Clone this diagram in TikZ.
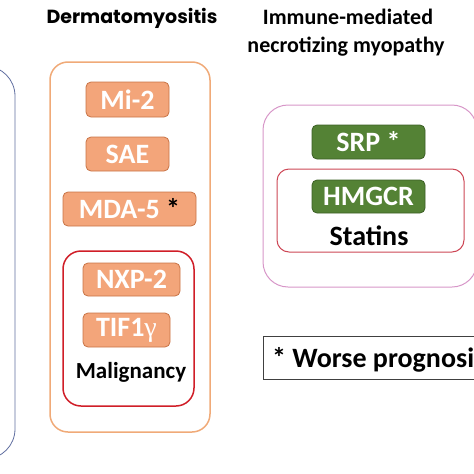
\documentclass[tikz,border=0pt]{standalone}
\usepackage{fontspec}
\setmainfont{Carlito}
\newfontfamily\titlefont{Poppins}
\newfontfamily\greekfont{Liberation Serif}
\definecolor{bluel}{RGB}{96,110,160}
\definecolor{orangel}{RGB}{240,170,120}
\definecolor{orfill}{RGB}{243,165,122}
\definecolor{ordraw}{RGB}{200,115,70}
\definecolor{redl}{RGB}{208,30,40}
\definecolor{redl2}{RGB}{205,70,85}
\definecolor{pinkl}{RGB}{215,150,200}
\definecolor{grfill}{RGB}{84,130,53}
\definecolor{grdraw}{RGB}{60,95,38}
\begin{document}
\begin{tikzpicture}[x=1pt,y=-1pt,
  abox/.style={draw=ordraw,fill=orfill,line width=0.8pt,rounded corners=5pt,inner sep=0pt,
    text=white,font=\fontsize{28}{30}\selectfont\bfseries},
  gbox/.style={draw=grdraw,fill=grfill,line width=0.8pt,rounded corners=5pt,inner sep=0pt,
    text=white,font=\fontsize{28}{30}\selectfont\bfseries},
  title/.style={font=\fontsize{22}{24}\selectfont\bfseries,inner sep=0pt}]
\useasboundingbox (0,0) rectangle (474,474);
\clip (0,0) rectangle (474,474);
% left blue frame
\draw[bluel,line width=0.8pt,rounded corners=30pt] (-100,66) rectangle (15,459);
% Dermatomyositis
\node[anchor=base,inner sep=0pt,font=\titlefont\fontsize{19}{21}\selectfont\bfseries] (dmt) at (132,23) {Dermatomyositis};
\draw[orangel,line width=1.5pt,rounded corners=18pt] (50,62) rectangle (210,432);
\node[abox,minimum width=83pt,minimum height=35pt] (mi2) at (127.5,99.5) {Mi-2};
\node[abox,minimum width=83pt,minimum height=34pt] (sae) at (127.5,154) {SAE};
\node[abox,minimum width=133pt,minimum height=34pt] (mda) at (129.5,209) {MDA-5 \textcolor{black}{*}};
\draw[redl,line width=1.5pt,rounded corners=18pt] (63,251) rectangle (194,406);
\node[abox,minimum width=97pt,minimum height=33pt] (nxp) at (131.5,279.5) {NXP-2};
\node[abox,minimum width=87pt,minimum height=34pt] (tif) at (126.5,330) {TIF1{\greekfont\mdseries γ}};
\node[anchor=base,inner sep=0pt,font=\fontsize{23}{25}\selectfont\bfseries] (mal) at (131,378) {Malignancy};
% IMNM
\node[title,anchor=base] (imm1) at (348,24) {Immune-mediated};
\node[title,anchor=base] (imm2) at (346,52) {necrotizing myopathy};
\draw[pinkl,line width=1pt,rounded corners=25pt] (263,105) rectangle (477,287);
\node[gbox,minimum width=113pt,minimum height=34pt] (srp) at (368.5,142) {SRP *};
\draw[redl2,line width=1pt,rounded corners=12pt] (277,169) rectangle (464,252);
\node[gbox,minimum width=113pt,minimum height=33pt] (hmg) at (368.5,196.5) {HMGCR};
\node[anchor=base,inner sep=0pt,font=\fontsize{28}{30}\selectfont\bfseries] (sta) at (369,245) {Statins};
% legend
\draw[black!75,line width=0.8pt] (263,336) rectangle (500,379);
\node[anchor=base west,inner sep=0pt,font=\fontsize{28}{30}\selectfont\bfseries] (wp) at (272,367) {* Worse prognosis};
\end{tikzpicture}
\end{document}
